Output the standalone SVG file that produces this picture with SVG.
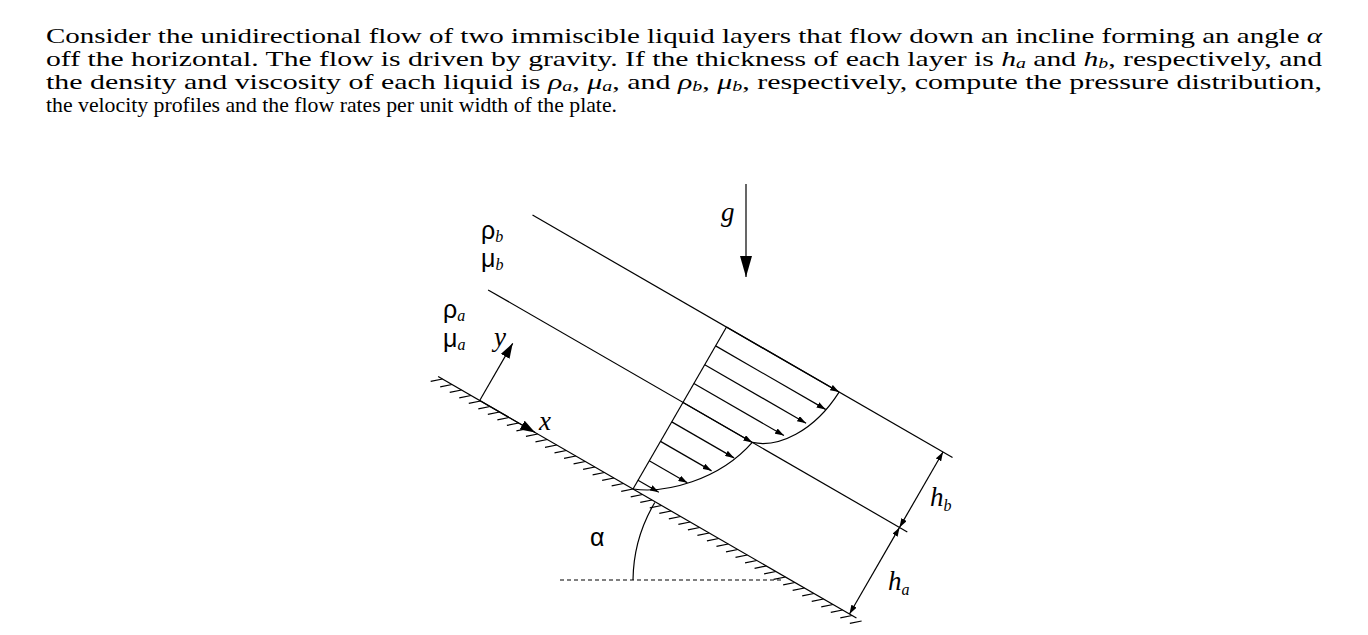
<svg xmlns="http://www.w3.org/2000/svg" width="1368" height="635" viewBox="0 0 1368 635">
<style>
.ln{stroke:#000;stroke-width:1.2;fill:none}
.tx{font-family:"Liberation Serif",serif;font-size:21px;fill:#000}
.it{font-style:italic}
.gr{font-family:"Liberation Sans",sans-serif;font-size:25px;fill:#000}
.sb{font-family:"Liberation Serif",serif;font-style:italic;font-size:16px}
.lab{font-family:"Liberation Serif",serif;font-style:italic;font-size:27px;fill:#000}
</style>
<defs>
<marker id="ah" markerUnits="userSpaceOnUse" markerWidth="10" markerHeight="6" refX="9" refY="3" orient="auto"><path d="M0,0 L9,3 L0,6 Z" fill="#000"/></marker>
<marker id="ahs" markerUnits="userSpaceOnUse" markerWidth="10" markerHeight="6" refX="1" refY="3" orient="auto"><path d="M10,0 L1,3 L10,6 Z" fill="#000"/></marker>
<marker id="big" markerUnits="userSpaceOnUse" markerWidth="16" markerHeight="10" refX="15" refY="5" orient="auto"><path d="M0,0 L15,5 L0,10 Z" fill="#000"/></marker>
<marker id="gbig" markerUnits="userSpaceOnUse" markerWidth="22" markerHeight="12" refX="21" refY="6" orient="auto"><path d="M0,0 L21,6 L0,12 Z" fill="#000"/></marker>
</defs>

<g id="problem-text" class="tx">
<text x="46" y="43" textLength="1276" lengthAdjust="spacingAndGlyphs">Consider the unidirectional flow of two immiscible liquid layers that flow down an incline forming an angle <tspan class="it">α</tspan></text>
<text x="46" y="66" textLength="1276" lengthAdjust="spacingAndGlyphs">off the horizontal. The flow is driven by gravity. If the thickness of each layer is <tspan class="it">h</tspan><tspan class="it" font-size="14" dy="2">a</tspan><tspan dy="-2"> and </tspan><tspan class="it">h</tspan><tspan class="it" font-size="14" dy="2">b</tspan><tspan dy="-2">, respectively, and</tspan></text>
<text x="46" y="89" textLength="1276" lengthAdjust="spacingAndGlyphs">the density and viscosity of each liquid is <tspan class="it">ρ</tspan><tspan class="it" font-size="14" dy="2">a</tspan><tspan dy="-2">, </tspan><tspan class="it">μ</tspan><tspan class="it" font-size="14" dy="2">a</tspan><tspan dy="-2">, and </tspan><tspan class="it">ρ</tspan><tspan class="it" font-size="14" dy="2">b</tspan><tspan dy="-2">, </tspan><tspan class="it">μ</tspan><tspan class="it" font-size="14" dy="2">b</tspan><tspan dy="-2">, respectively, compute the pressure distribution,</tspan></text>
<text x="46" y="112" textLength="571" lengthAdjust="spacingAndGlyphs">the velocity profiles and the flow rates per unit width of the plate.</text>
</g>

<g id="incline" transform="translate(633,489) rotate(30)">
<line class="ln" x1="-225" y1="0" x2="258" y2="0"/>
<path class="ln" stroke-width="1" d="M-220,0 l-9,8 M-209,0 l-9,8 M-198,0 l-9,8 M-187,0 l-9,8 M-176,0 l-9,8 M-165,0 l-9,8 M-154,0 l-9,8 M-143,0 l-9,8 M-132,0 l-9,8 M-121,0 l-9,8 M-110,0 l-9,8 M-99,0 l-9,8 M-88,0 l-9,8 M-77,0 l-9,8 M-66,0 l-9,8 M-55,0 l-9,8 M-44,0 l-9,8 M-33,0 l-9,8 M-22,0 l-9,8 M-11,0 l-9,8 M0,0 l-9,8 M11,0 l-9,8 M22,0 l-9,8 M33,0 l-9,8 M44,0 l-9,8 M55,0 l-9,8 M66,0 l-9,8 M77,0 l-9,8 M88,0 l-9,8 M99,0 l-9,8 M110,0 l-9,8 M121,0 l-9,8 M132,0 l-9,8 M143,0 l-9,8 M154,0 l-9,8 M165,0 l-9,8 M176,0 l-9,8 M187,0 l-9,8 M198,0 l-9,8 M209,0 l-9,8 M220,0 l-9,8 M231,0 l-9,8 M242,0 l-9,8 M253,0 l-9,8 M264,0 l-9,8"/>
</g>
<g id="interface" transform="translate(633,489) rotate(30)">
<line class="ln" x1="-225" y1="-100" x2="259" y2="-100"/>
</g>
<g id="free-surface" transform="translate(633,489) rotate(30)">
<line class="ln" x1="-224" y1="-187" x2="261" y2="-187"/>
</g>

<g id="connectors">
<g transform="translate(633,489) rotate(30)">
<line class="ln" x1="0" y1="0" x2="0" y2="-187"/>
<path class="ln" d="M0,0 C30,-12 70,-50 80,-100"/>
<path class="ln" d="M80,-100 C105,-108 128,-140 130,-187"/>
<g class="ln" marker-end="url(#ah)">
<line x1="0" y1="-10" x2="24" y2="-10"/>
<line x1="0" y1="-32.5" x2="44" y2="-32.5"/>
<line x1="0" y1="-55" x2="59" y2="-55"/>
<line x1="0" y1="-77.5" x2="72" y2="-77.5"/>
<line x1="0" y1="-100" x2="80" y2="-100"/>
<line x1="0" y1="-121.75" x2="104" y2="-121.75"/>
<line x1="0" y1="-143.5" x2="117" y2="-143.5"/>
<line x1="0" y1="-165.25" x2="127" y2="-165.25"/>
<line x1="0" y1="-187" x2="130" y2="-187"/>
</g>
<line class="ln" x1="250" y1="0" x2="250" y2="-100" marker-start="url(#ahs)" marker-end="url(#ah)"/>
<line class="ln" x1="250" y1="-100" x2="250" y2="-187" marker-start="url(#ahs)" marker-end="url(#ah)"/>
<line class="ln" x1="-177" y1="0" x2="-113" y2="0" marker-end="url(#big)"/>
<line class="ln" x1="-177" y1="0" x2="-177" y2="-66" marker-end="url(#big)"/>
</g>
<line class="ln" x1="746" y1="184" x2="746" y2="277" marker-end="url(#gbig)"/>
<line class="ln" stroke-width="1" stroke-dasharray="4,3" x1="560" y1="580" x2="783" y2="580"/>
<path class="ln" d="M633,580 A155,155 0 0 1 654.8,502.5"/>
</g>

<g id="labels">
<text class="lab" x="721" y="221">g</text>
<text class="lab" x="539" y="430" font-size="25">x</text>
<text class="lab" x="494" y="346" font-size="25">y</text>
<text class="gr" x="590" y="546" font-size="32">α</text>
<text class="lab" x="930" y="506">h<tspan class="sb" dy="5">b</tspan></text>
<text class="lab" x="888" y="590">h<tspan class="sb" dy="5">a</tspan></text>
<text class="gr" x="481" y="239">ρ<tspan class="sb" dy="3">b</tspan></text>
<text class="gr" x="481" y="267">μ<tspan class="sb" dy="3">b</tspan></text>
<text class="gr" x="443" y="318">ρ<tspan class="sb" dy="3">a</tspan></text>
<text class="gr" x="443" y="347">μ<tspan class="sb" dy="3">a</tspan></text>
</g>
</svg>
